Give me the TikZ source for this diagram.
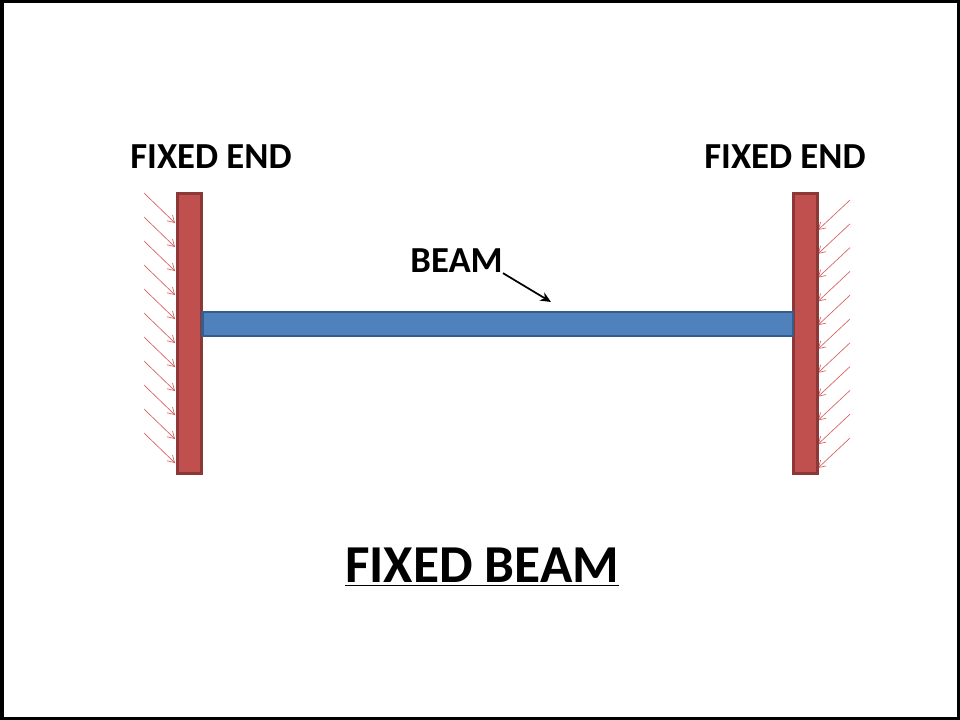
\documentclass[tikz,border=0pt]{standalone}
\usepackage{fontspec}
\setmainfont{Carlito}
\usetikzlibrary{arrows.meta}
\definecolor{wallfill}{RGB}{192,80,77}
\definecolor{walldraw}{RGB}{140,56,54}
\definecolor{beamfill}{RGB}{79,129,189}
\definecolor{beamdraw}{RGB}{56,93,138}
\definecolor{hatchc}{RGB}{215,95,95}
\begin{document}
\begin{tikzpicture}[x=0.75pt,y=-0.75pt,
  wall/.style={draw=walldraw,fill=wallfill,line width=2pt,inner sep=0pt,minimum width=18pt,minimum height=210pt,anchor=north west},
  hatch/.style={draw=hatchc,line width=0.5pt,-{Straight Barb[length=5pt,width=6pt]}},
  lbl/.style={font=\bfseries\fontsize{27.5}{32}\selectfont,inner sep=0pt}]
\useasboundingbox (0,0) rectangle (960,720);
\draw[line width=3pt] (1.5,1.5) rectangle (958.5,718.5);
\foreach \i in {0,...,10}{
  \draw[hatch] (144,{193+24*\i}) -- (175,{223+24*\i});
  \draw[hatch] (850,{200+23.8*\i}) -- (818,{230+23.8*\i});
}
\node[wall] (lw) at (176,192) {};
\node[wall] (rw) at (792,192) {};
\node[draw=beamdraw,fill=beamfill,line width=2pt,inner sep=0pt,minimum height=18pt,minimum width=443pt,anchor=west] (beam) at (201,324) {};
\node[lbl] (l1) at (211,157) {FIXED END};
\node[lbl] (l2) at (785,157) {FIXED END};
\node[lbl,anchor=east] (bl) at (503,261) {BEAM};
\draw[line width=1.3pt,-{Stealth[length=8pt,width=7pt]}] (bl.south east) -- (551,302);
\node[font=\bfseries\fontsize{40}{48}\selectfont,inner sep=0pt] (t) at (482,567) {\underline{FIXED BEAM}};
\end{tikzpicture}
\end{document}
